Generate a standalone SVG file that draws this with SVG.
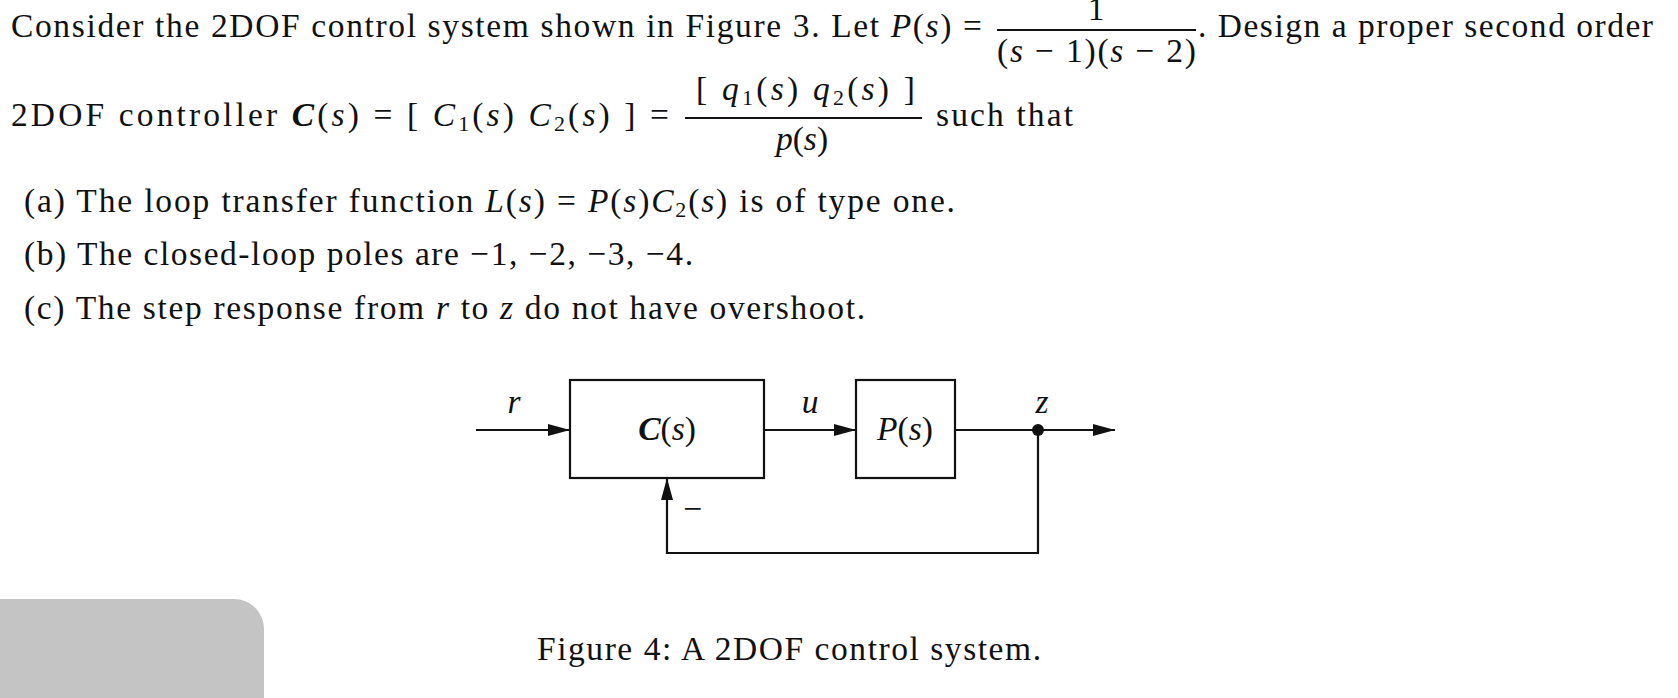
<svg xmlns="http://www.w3.org/2000/svg" width="1678" height="698" viewBox="0 0 1678 698" xml:space="preserve">
<style>
text{font-family:"Liberation Serif","DejaVu Serif",serif;font-size:33.5px;fill:#111}
.i{font-style:italic}
.b{font-weight:bold;font-style:italic}
.s{font-size:22px}
.ln{stroke:#111;stroke-width:2.2;fill:none}
</style>
<defs><marker id="a" markerWidth="22" markerHeight="12" refX="22" refY="6" orient="auto" markerUnits="userSpaceOnUse"><path d="M0,0L22,6L0,12z" fill="#111"/></marker></defs>
<rect width="1678" height="698" fill="#fff"/>
<rect x="-30" y="599" width="294" height="130" rx="30" fill="#c4c4c4"/>
<text x="11" y="37" textLength="971" lengthAdjust="spacing">Consider the 2DOF control system shown in Figure 3. Let <tspan class="i">P</tspan>(<tspan class="i">s</tspan>) =</text>
<text x="1096" y="20" text-anchor="middle" font-size="26">1</text>
<line x1="997" y1="30" x2="1196" y2="30" class="ln" stroke-width="1.5"/>
<text x="997" y="62" textLength="199" lengthAdjust="spacing">(<tspan class="i">s</tspan> − 1)(<tspan class="i">s</tspan> − 2)</text>
<text x="1198" y="37" textLength="455" lengthAdjust="spacing">. Design a proper second order</text>
<text x="11" y="126" textLength="658" lengthAdjust="spacing">2DOF controller <tspan class="b">C</tspan>(<tspan class="i">s</tspan>) = [  <tspan class="i">C</tspan><tspan class="s" dy="5">1</tspan><tspan dy="-5">(</tspan><tspan class="i">s</tspan>)    <tspan class="i">C</tspan><tspan class="s" dy="5">2</tspan><tspan dy="-5">(</tspan><tspan class="i">s</tspan>)  ] =</text>
<text x="696" y="100" textLength="219" lengthAdjust="spacing">[  <tspan class="i">q</tspan><tspan class="s" dy="5">1</tspan><tspan dy="-5">(</tspan><tspan class="i">s</tspan>)    <tspan class="i">q</tspan><tspan class="s" dy="5">2</tspan><tspan dy="-5">(</tspan><tspan class="i">s</tspan>)  ]</text>
<line x1="685" y1="118" x2="922" y2="118" class="ln" stroke-width="1.5"/>
<text x="802" y="150" text-anchor="middle"><tspan class="i">p</tspan>(<tspan class="i">s</tspan>)</text>
<text x="936" y="126" textLength="137" lengthAdjust="spacing">such that</text>
<text x="24" y="212" textLength="931" lengthAdjust="spacing">(a)  The loop transfer function <tspan class="i">L</tspan>(<tspan class="i">s</tspan>) = <tspan class="i">P</tspan>(<tspan class="i">s</tspan>)<tspan class="i">C</tspan><tspan class="s" dy="5">2</tspan><tspan dy="-5">(</tspan><tspan class="i">s</tspan>) is of type one.</text>
<text x="24" y="265" textLength="669" lengthAdjust="spacing">(b)  The closed-loop poles are −1, −2, −3, −4.</text>
<text x="24" y="319" textLength="841" lengthAdjust="spacing">(c)  The step response from <tspan class="i">r</tspan> to <tspan class="i">z</tspan> do not have overshoot.</text>
<g id="C"><rect x="570" y="380" width="194" height="98" class="ln"/><text x="667" y="440" text-anchor="middle"><tspan class="b">C</tspan>(<tspan class="i">s</tspan>)</text></g>
<g id="P"><rect x="856" y="380" width="99" height="98" class="ln"/><text x="905" y="440" text-anchor="middle"><tspan class="i">P</tspan>(<tspan class="i">s</tspan>)</text></g>
<g id="connectors">
<line x1="476" y1="430" x2="570" y2="430" class="ln" marker-end="url(#a)"/>
<line x1="764" y1="430" x2="856" y2="430" class="ln" marker-end="url(#a)"/>
<line x1="955" y1="430" x2="1115" y2="430" class="ln" marker-end="url(#a)"/>
<polyline points="1038,430 1038,553 667,553 667,478" class="ln" marker-end="url(#a)"/>
<circle cx="1038" cy="430" r="6" fill="#111"/>
</g>
<text x="514" y="413" class="i" text-anchor="middle">r</text>
<text x="810" y="413" class="i" text-anchor="middle">u</text>
<text x="1042" y="413" class="i" text-anchor="middle">z</text>
<text x="693" y="520" text-anchor="middle">−</text>
<text x="537" y="660" textLength="504" lengthAdjust="spacing">Figure 4:  A 2DOF control system.</text>
</svg>
